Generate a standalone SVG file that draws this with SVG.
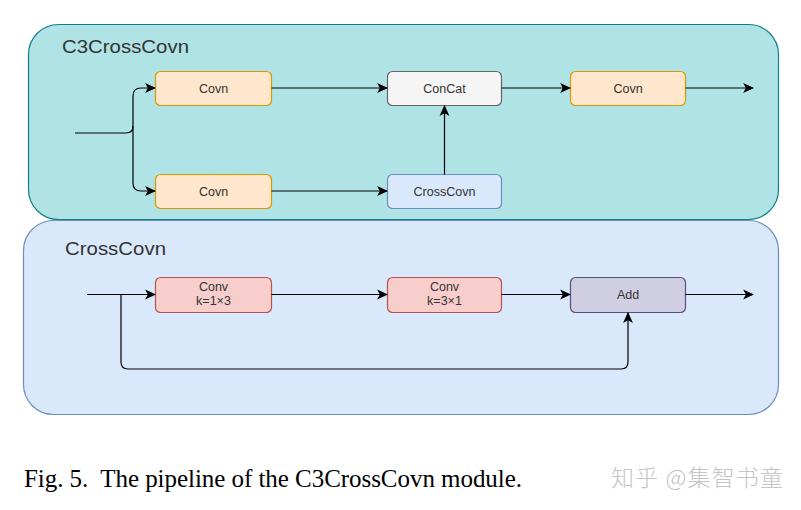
<svg xmlns="http://www.w3.org/2000/svg" width="801" height="510" viewBox="0 0 801 510">
<defs>
<marker id="arr" viewBox="0 0 10 10" refX="9" refY="5" markerWidth="11" markerHeight="11" markerUnits="userSpaceOnUse" orient="auto">
<path d="M0,0.5 L10,5 L0,9.5 L2.5,5 Z" fill="#000"/>
</marker>
<style>
.node rect{stroke-width:1.2}
.lbl{font-family:"Liberation Sans",Arial,sans-serif;font-size:12.5px;fill:#333;text-anchor:middle}
.title{font-family:"Liberation Sans",Arial,sans-serif;font-size:19px;fill:#333}
.covn{fill:#ffe6cc;stroke:#d79b00}
.conv{fill:#f8cecc;stroke:#b85450}
.cat{fill:#f5f5f5;stroke:#666666}
.cross{fill:#dae8fc;stroke:#6c8ebf}
.add{fill:#d0cee2;stroke:#56517e}
.edge{fill:none;stroke:#000;stroke-width:1.2;marker-end:url(#arr)}
.line{fill:none;stroke:#000;stroke-width:1.2}
</style>
</defs>
<rect width="801" height="510" fill="#fff"/>
<g id="c3crosscovn-container">
<rect x="28.5" y="24.5" width="750" height="195" rx="30" fill="#b0e3e6" stroke="#0e8088" stroke-width="1.2"/>
<text class="title" x="62" y="53" textLength="127" lengthAdjust="spacingAndGlyphs">C3CrossCovn</text>
</g>
<g id="crosscovn-container">
<rect x="23.5" y="220.5" width="755" height="194" rx="30" fill="#dae8fc" stroke="#6c8ebf" stroke-width="1.2"/>
<text class="title" x="65" y="255" textLength="101" lengthAdjust="spacingAndGlyphs">CrossCovn</text>
</g>
<g id="covn1" class="node"><rect class="covn" x="155.5" y="71.5" width="116" height="34" rx="5"/><text class="lbl" x="213.5" y="93">Covn</text></g>
<g id="covn2" class="node"><rect class="covn" x="155.5" y="174.5" width="116" height="34" rx="5"/><text class="lbl" x="213.5" y="196">Covn</text></g>
<g id="concat" class="node"><rect class="cat" x="387.5" y="71.5" width="114" height="34" rx="5"/><text class="lbl" x="444.5" y="93">ConCat</text></g>
<g id="crosscovn" class="node"><rect class="cross" x="387.5" y="174.5" width="114" height="34" rx="5"/><text class="lbl" x="444.5" y="196">CrossCovn</text></g>
<g id="covn3" class="node"><rect class="covn" x="570.5" y="71.5" width="115" height="34" rx="5"/><text class="lbl" x="628" y="93">Covn</text></g>
<g id="conv13" class="node"><rect class="conv" x="155.5" y="277.5" width="116" height="35" rx="5"/><text class="lbl" x="213.5" y="291">Conv</text><text class="lbl" x="213.5" y="305">k=1×3</text></g>
<g id="conv31" class="node"><rect class="conv" x="387.5" y="277.5" width="114" height="35" rx="5"/><text class="lbl" x="444.5" y="291">Conv</text><text class="lbl" x="444.5" y="305">k=3×1</text></g>
<g id="add" class="node"><rect class="add" x="570.5" y="277.5" width="115" height="35" rx="5"/><text class="lbl" x="628" y="299">Add</text></g>
<g id="connectors">
<path class="line" d="M75,133 H126 Q133,133 133,126"/>
<path class="edge" d="M133,133 V96 Q133,88 141,88 H155"/>
<path class="edge" d="M133,133 V183 Q133,191 141,191 H155"/>
<path class="edge" d="M271.5,88 H387"/>
<path class="edge" d="M271.5,191 H387"/>
<path class="edge" d="M444.5,174.5 V106"/>
<path class="edge" d="M501.5,88 H570"/>
<path class="edge" d="M685.5,88 H753"/>
<path class="edge" d="M87,294.5 H155"/>
<path class="edge" d="M271.5,294.5 H387"/>
<path class="edge" d="M501.5,294.5 H570"/>
<path class="edge" d="M121,294.5 V362 Q121,369 128,369 H621 Q628,369 628,362 V313"/>
<path class="edge" d="M685.5,294.5 H753"/>
</g>
<text x="24" y="487" font-family="'Liberation Serif','Times New Roman',serif" font-size="25" fill="#000" xml:space="preserve" textLength="498" lengthAdjust="spacing">Fig. 5.  The pipeline of the C3CrossCovn module.</text>
<text x="611" y="486" font-family="'Noto Sans CJK SC','Liberation Sans',sans-serif" font-weight="300" font-size="23" fill="#c4c4c4" textLength="172" lengthAdjust="spacing">知乎 @集智书童</text>
</svg>
